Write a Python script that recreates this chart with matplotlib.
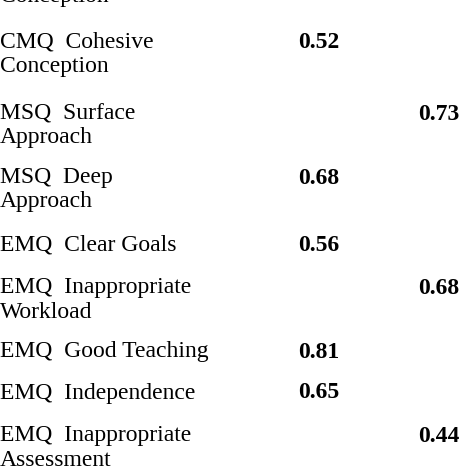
import matplotlib
matplotlib.use("Agg")
import matplotlib.pyplot as plt

labels = ["Conception", "CMQ  Cohesive\nConception", "MSQ  Surface\nApproach", "MSQ  Deep\nApproach",
          "EMQ  Clear Goals", "EMQ  Inappropriate\nWorkload", "EMQ  Good Teaching",
          "EMQ  Independence", "EMQ  Inappropriate\nAssessment"]
values = ["", "0.52", "0.73", "0.68", "0.56", "0.68", "0.81", "0.65", "0.44"]
columns = [0, 0, 1, 0, 0, 1, 0, 0, 1]
row_y = [-4, 42, 114, 178, 245, 288, 352, 393, 436]

fig = plt.figure(figsize=(4.74, 4.74), dpi=100)
ax = fig.add_axes([0, 0, 1, 1])
ax.set_xlim(0, 474)
ax.set_ylim(474, 0)
ax.axis("off")
col_x = [298, 418]
fs = 17
line_gap = 24
for lab, val, c, y in zip(labels, values, columns, row_y):
    for i, line in enumerate(lab.split("\n")):
        ax.text(0, y + i * line_gap, line, family="Liberation Serif", fontsize=fs,
                va="center", ha="left", color="black")
    if val:
        ax.text(col_x[c], y, val, family="Liberation Serif", fontsize=fs,
                fontweight="bold", va="center", ha="left")
fig.savefig("out.png", dpi=100)
